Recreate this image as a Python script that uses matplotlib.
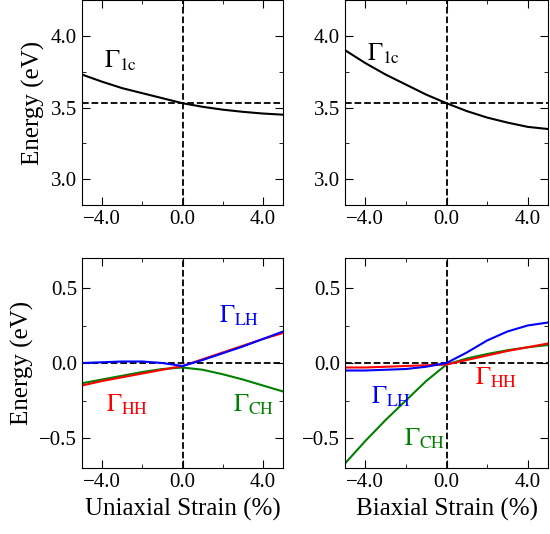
import numpy as np
import matplotlib.pyplot as plt
from matplotlib.ticker import MultipleLocator

plt.rcParams['font.family'] = ['Liberation Serif', 'DejaVu Serif']
plt.rcParams['mathtext.fontset'] = 'stix'
plt.rcParams['font.size'] = 15

strain = [-5, -4, -3, -2, -1, 0, 1, 2, 3, 4, 5]
e_ref = 3.53

# uniaxial
uni_c = [3.73, 3.68, 3.635, 3.60, 3.565, 3.53, 3.505, 3.485, 3.47, 3.458, 3.45]
uni_lh = [0.00, 0.005, 0.01, 0.01, 0.0, -0.02, 0.02, 0.065, 0.11, 0.16, 0.21]
uni_hh = [-0.15, -0.12, -0.095, -0.07, -0.045, -0.02, 0.025, 0.07, 0.115, 0.16, 0.20]
uni_ch = [-0.135, -0.11, -0.085, -0.06, -0.04, -0.03, -0.045, -0.075, -0.11, -0.15, -0.19]
# biaxial
bi_c = [3.90, 3.81, 3.73, 3.66, 3.59, 3.53, 3.475, 3.43, 3.395, 3.365, 3.35]
bi_lh = [-0.05, -0.05, -0.045, -0.04, -0.025, 0.0, 0.07, 0.15, 0.21, 0.25, 0.27]
bi_hh = [-0.03, -0.03, -0.025, -0.02, -0.015, -0.01, 0.02, 0.05, 0.08, 0.105, 0.13]
bi_ch = [-0.67, -0.52, -0.38, -0.25, -0.12, -0.01, 0.03, 0.06, 0.085, 0.105, 0.12]

fig = plt.figure(figsize=(5.5, 5.34), dpi=100)
W, H = 550, 534
boxes = [(82, 0, 283, 205), (345, 0, 548, 205), (82, 258, 283, 468), (345, 258, 548, 468)]
axs = [fig.add_axes([x0 / W, 1 - y1 / H, (x1 - x0) / W, (y1 - y0) / H]) for x0, y0, x1, y1 in boxes]

for ax in axs:
    ax.set_xlim(-5, 5)
    ax.axvline(0, color='k', ls='--', lw=1.3)
    ax.xaxis.set_major_locator(MultipleLocator(4))
    ax.xaxis.set_minor_locator(MultipleLocator(2))
    ax.xaxis.set_major_formatter(lambda v, p: f"{v:.1f}".replace('-', '\u2212'))
    ax.yaxis.set_major_formatter(lambda v, p: f"{v:.1f}".replace('-', '\u2212'))
    ax.tick_params(which='both', direction='in', top=True, right=True, labelsize=15)
    ax.tick_params(which='major', length=6)
    ax.tick_params(which='minor', length=3)

for ax, c in [(axs[0], uni_c), (axs[1], bi_c)]:
    ax.set_ylim(2.82, 4.25)
    ax.yaxis.set_major_locator(MultipleLocator(0.5))
    ax.yaxis.set_minor_locator(MultipleLocator(0.25))
    ax.axhline(e_ref, color='k', ls='--', lw=1.3)
    ax.plot(strain, c, color='k', lw=1.5)
    ax.text(-3.9, 3.78 if ax is axs[0] else 3.83, r'$\mathrm{\Gamma_{1c}}$', fontsize=18)

for ax, lh, hh, ch in [(axs[2], uni_lh, uni_hh, uni_ch), (axs[3], bi_lh, bi_hh, bi_ch)]:
    ax.set_ylim(-0.7, 0.7)
    ax.yaxis.set_major_locator(MultipleLocator(0.5))
    ax.yaxis.set_minor_locator(MultipleLocator(0.25))
    ax.axhline(0, color='k', ls='--', lw=1.3)
    ax.plot(strain, ch, color='green', lw=1.5)
    ax.plot(strain, hh, color='red', lw=1.5)
    ax.plot(strain, lh, color='blue', lw=1.5)

axs[2].text(1.8, 0.27, r'$\mathrm{\Gamma_{LH}}$', color='blue', fontsize=18)
axs[2].text(-3.8, -0.32, r'$\mathrm{\Gamma_{HH}}$', color='red', fontsize=18)
axs[2].text(2.5, -0.32, r'$\mathrm{\Gamma_{CH}}$', color='green', fontsize=18)
axs[3].text(-3.7, -0.27, r'$\mathrm{\Gamma_{LH}}$', color='blue', fontsize=18)
axs[3].text(1.4, -0.14, r'$\mathrm{\Gamma_{HH}}$', color='red', fontsize=18)
axs[3].text(-2.1, -0.55, r'$\mathrm{\Gamma_{CH}}$', color='green', fontsize=18)

axs[0].set_ylabel('Energy (eV)', fontsize=18)
axs[2].set_ylabel('Energy (eV)', fontsize=18)
axs[2].set_xlabel('Uniaxial Strain (%)', fontsize=18)
axs[3].set_xlabel('Biaxial Strain (%)', fontsize=18)

fig.savefig('out.png', dpi=100)
